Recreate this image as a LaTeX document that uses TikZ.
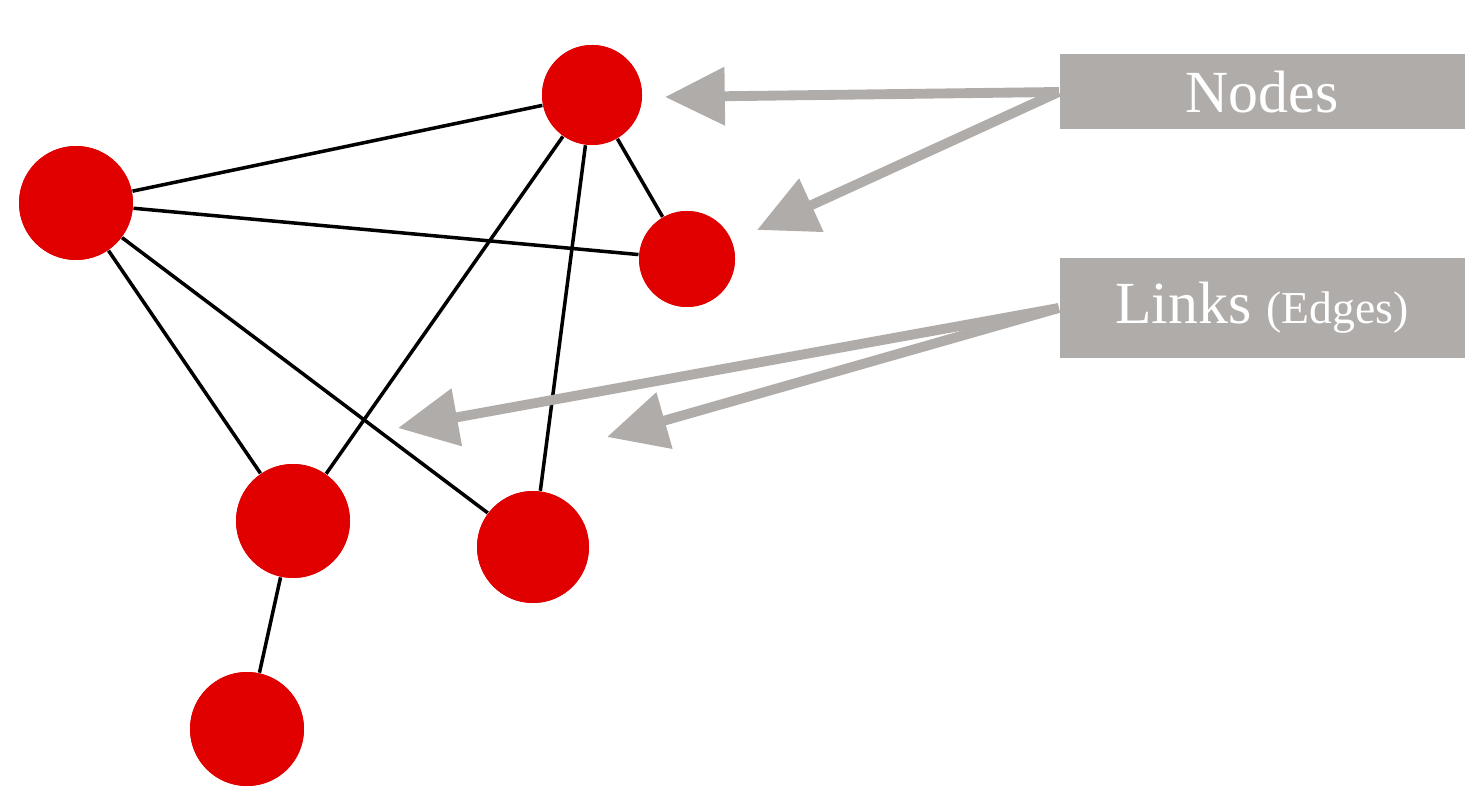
\documentclass[tikz,border=0pt]{standalone}
\usepackage{fontspec}
\setmainfont{Liberation Serif}
\usetikzlibrary{arrows.meta}
\definecolor{nodered}{RGB}{224,0,0}
\definecolor{lblgray}{RGB}{176,172,170}
\begin{document}
\begin{tikzpicture}[x=0.01cm,y=-0.01cm,
  vtx/.style={circle,fill=nodered,inner sep=0pt,minimum size=#1},
  edge/.style={draw=black,line width=1pt},
  lbl/.style={fill=lblgray,text=white,minimum width=405*0.01cm,inner sep=0pt,font=\fontsize{17}{20}\selectfont},
  pointer/.style={draw=lblgray,line width=2.8pt,-{Triangle[length=17pt,width=16pt]}}]
\useasboundingbox (0,0) rectangle (1480,804);
\node[vtx=100*0.01cm] (A) at (592,95) {};
\node[vtx=114*0.01cm] (B) at (76,203) {};
\node[vtx=96*0.01cm] (C) at (687,259) {};
\node[vtx=114*0.01cm] (D) at (293,521) {};
\node[vtx=112*0.01cm] (E) at (533,547) {};
\node[vtx=114*0.01cm] (F) at (247,729) {};
\begin{scope}[on background layer/.style={}]
\end{scope}
\path[edge] (B) -- (A);
\path[edge] (B) -- (C);
\path[edge] (B) -- (D);
\path[edge] (B) -- (E);
\path[edge] (A) -- (D);
\path[edge] (A) -- (E);
\path[edge] (A) -- (C);
\path[edge] (D) -- (F);
\node[vtx=100*0.01cm] at (A) {};
\node[vtx=114*0.01cm] at (B) {};
\node[vtx=96*0.01cm] at (C) {};
\node[vtx=114*0.01cm] at (D) {};
\node[vtx=112*0.01cm] at (E) {};
\node[vtx=114*0.01cm] at (F) {};
\node[lbl,minimum height=75*0.01cm] (N) at (1262,92) {Nodes};
\node[lbl,minimum height=100*0.01cm] (L) at (1262,308) {Links {\fontsize{13}{16}\selectfont(Edges)}};
\coordinate (n1) at (665,97);
\coordinate (n2) at (757,230);
\coordinate (l1) at (398,428);
\coordinate (l2) at (607,437);
\draw[pointer] (N.west) -- (n1);
\draw[pointer] (N.west) -- (n2);
\draw[pointer] (L.west) -- (l1);
\draw[pointer] (L.west) -- (l2);
\end{tikzpicture}
\end{document}
